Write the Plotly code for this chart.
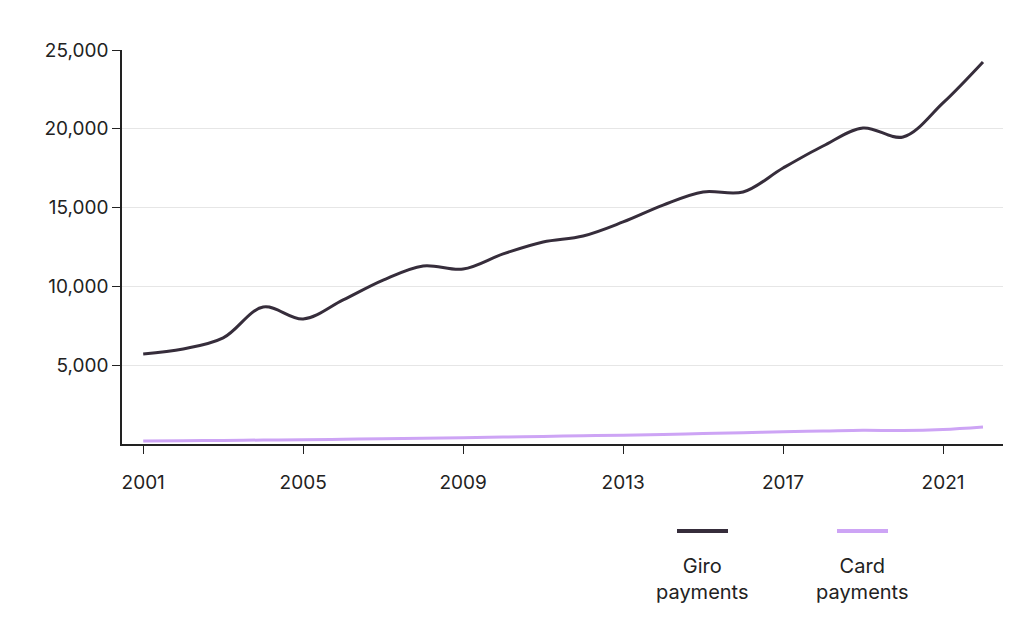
import plotly.graph_objects as go

years = list(range(2001, 2023))
giro = [5710, 6030, 6730, 8690, 7930, 9140, 10400, 11300, 11100, 12060, 12820,
        13200, 14090, 15160, 15990, 15990, 17510, 18910, 20050, 19480, 21640, 24240]
card = [190, 210, 230, 250, 270, 300, 330, 370, 400, 440, 480,
        520, 560, 610, 660, 710, 780, 820, 870, 850, 920, 1080]
giro_color = "#362d3b"
card_color = "#cda4f5"

fig = go.Figure()
fig.add_trace(go.Scatter(x=years, y=giro, mode="lines", line=dict(color=giro_color, width=3, shape="spline"), name="Giro payments"))
fig.add_trace(go.Scatter(x=years, y=card, mode="lines", line=dict(color=card_color, width=3, shape="spline"), name="Card payments"))

W = 881.0; H = 394.0
def px(x): return (x - 122) / W
def py(y): return (444 - y) / H

for (x0, x1, col, label) in [(677, 728, giro_color, "Giro<br>payments"), (837, 888, card_color, "Card<br>payments")]:
    fig.add_shape(type="line", xref="paper", yref="paper", x0=px(x0), x1=px(x1), y0=py(531), y1=py(531),
                  line=dict(color=col, width=4))
    fig.add_annotation(xref="paper", yref="paper", x=px((x0 + x1) / 2), y=py(579), text=label, showarrow=False,
                       xanchor="center", yanchor="middle", font=dict(size=20, color="#222"))

fig.update_layout(
    width=1024, height=640, showlegend=False,
    margin=dict(l=114, r=29, t=42, b=204),
    plot_bgcolor="white", paper_bgcolor="white",
    font=dict(family="Inter, Liberation Sans, sans-serif", size=19, color="#222"),
    xaxis=dict(range=[2000.47, 2022.5], tickvals=[2001, 2005, 2009, 2013, 2017, 2021], showgrid=False,
               showline=True, linecolor="#222", linewidth=1.5, ticks="outside", ticklen=8, tickcolor="#222",
               zeroline=False, ticklabelstandoff=12),
    yaxis=dict(range=[0, 25000], tickvals=[5000, 10000, 15000, 20000, 25000], tickformat=",",
               showgrid=True, gridcolor="#e6e6e6", showline=True, linecolor="#222", linewidth=1.5,
               ticks="outside", ticklen=8, tickcolor="#222", zeroline=False),
)
fig.write_html("out.html")
